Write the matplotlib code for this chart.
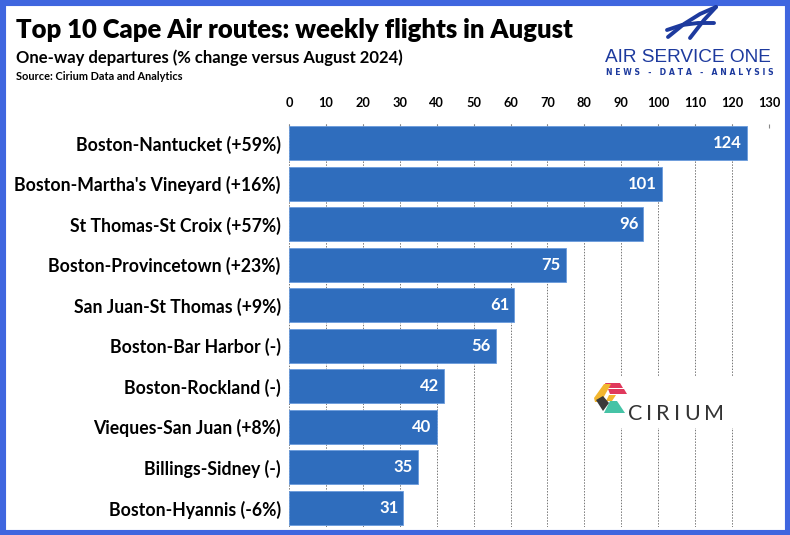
import matplotlib.pyplot as plt
from matplotlib.patches import Rectangle, Polygon
from matplotlib.lines import Line2D

routes = ['Boston-Nantucket (+59%)', "Boston-Martha's Vineyard (+16%)",
          'St Thomas-St Croix (+57%)', 'Boston-Provincetown (+23%)',
          'San Juan-St Thomas (+9%)', 'Boston-Bar Harbor (-)',
          'Boston-Rockland (-)', 'Vieques-San Juan (+8%)',
          'Billings-Sidney (-)', 'Boston-Hyannis (-6%)']
flights = [124, 101, 96, 75, 61, 56, 42, 40, 35, 31]
ticks = list(range(0, 131, 10))

plt.rcParams['font.family'] = ['Lato', 'DejaVu Sans']

bar_color = '#2f6dbd'
frame_color = '#3f66df'
logo_blue = '#1d3a9e'

W, H = 790, 535
fig = plt.figure(figsize=(7.9, 5.35), dpi=100)
renderer = fig.canvas.get_renderer()


def px(x, y):
    # pixel coords from top-left -> figure fraction
    return x / W, 1 - y / H


def fit(t, width):
    # scale a text's fontsize so it spans about `width` pixels
    w = t.get_window_extent(renderer).width
    t.set_fontsize(t.get_fontsize() * width / w)
    return t.get_fontsize()


def probe_size(s, width, weight='bold'):
    p = fig.text(0, 0, s, fontsize=12, fontweight=weight)
    size = fit(p, width)
    p.remove()
    return size


ax = fig.add_axes([289 / W, 1 - 527 / H, 480 / W, 403 / H])

y = list(range(len(routes)))
ax.barh(y, flights, height=0.84, color=bar_color, edgecolor='#6a9bdc', linewidth=0.6, zorder=3)

val_size = probe_size('124', 25) * 1.15
for yi, v in zip(y, flights):
    ax.text(v - 1.4, yi, str(v), ha='right', va='center', color='white',
            fontsize=val_size, fontweight='bold', zorder=4)

tick_size = probe_size('100', 20) * 1.1
lab_size = probe_size(routes[1], 265)

ax.set_xlim(0, 130)
ax.set_ylim(len(routes) - 0.53, -0.47)
ax.set_xticks(ticks)
ax.xaxis.tick_top()
ax.tick_params(axis='x', length=3, color='#888888', labelsize=tick_size, pad=11, direction='in')
for lbl in ax.get_xticklabels():
    lbl.set_fontweight('bold')
ax.set_yticks(y)
ax.set_yticklabels(routes, fontsize=lab_size, fontweight='bold')
ax.tick_params(axis='y', length=0, pad=6)
ax.grid(axis='x', color='#777777', linestyle=(0, (1.5, 1.5)), linewidth=0.7, zorder=0)
for s in ax.spines.values():
    s.set_visible(False)

# titles
t = fig.text(*px(16, 30), 'Top 10 Cape Air routes: weekly flights in August',
             fontsize=19, fontweight='heavy', va='center')
fit(t, 557)
t = fig.text(*px(16, 58), 'One-way departures (% change versus August 2024)',
             fontsize=12.5, fontweight='bold', va='center')
fit(t, 389)
t = fig.text(*px(16, 77), 'Source: Cirium Data and Analytics',
             fontsize=8.5, fontweight='bold', va='center')
fit(t, 166)

# Air Service One logo
strokes = [
    [(668, 37), (684, 24), (700, 14), (716, 7)],
    [(716, 7), (704, 20), (690, 38)],
    [(667, 30), (682, 25), (698, 23), (714, 23)],
]
for s in strokes:
    xs = [p[0] / W for p in s]
    ys = [1 - p[1] / H for p in s]
    fig.add_artist(Line2D(xs, ys, color=logo_blue, linewidth=2.8, solid_capstyle='round'))
t = fig.text(*px(605, 58), 'AIR SERVICE ONE', fontsize=15, color=logo_blue,
             va='center', family='Liberation Sans')
fit(t, 167)
t = fig.text(*px(606, 72), 'N E W S   -   D A T A   -   A N A L Y S I S', fontsize=4.5,
             color=logo_blue, va='center', family='DejaVu Sans', fontweight='bold')
fit(t, 166)

# Cirium logo on a white patch (hides the grid behind it)
fig.add_artist(Rectangle(px(591, 428), 143 / W, 52 / H, transform=fig.transFigure,
                         facecolor='white', edgecolor='none'))
shapes = [
    ([(605, 383), (620, 383), (623, 388), (607, 388)], '#e0395c'),
    ([(608, 389), (624, 389), (627, 394), (610, 394)], '#e0395c'),
    ([(604, 384), (611, 384), (601, 402), (595, 402), (594, 398)], '#f2b630'),
    ([(609, 395), (616, 395), (612, 401), (606, 401)], '#f2b630'),
    ([(610, 401), (617, 401), (625, 413), (604, 413)], '#46c3a6'),
    ([(596, 400), (603, 396), (609, 403), (603, 411)], '#3a3a3a'),
]
for pts, c in shapes:
    fig.add_artist(Polygon([px(*p) for p in pts], closed=True,
                           transform=fig.transFigure, facecolor=c, edgecolor='none'))
cx = 628
for ch in 'CIRIUM':
    t = fig.text(*px(cx, 414), ch, fontsize=15.5, color='#333333', va='center',
                 fontweight='normal')
    cx += t.get_window_extent(renderer).width + 4

# outer frame
fig.add_artist(Rectangle((0, 0), 1, 1, transform=fig.transFigure, fill=False,
                         edgecolor=frame_color, linewidth=8))

fig.savefig('out.png', dpi=100)
